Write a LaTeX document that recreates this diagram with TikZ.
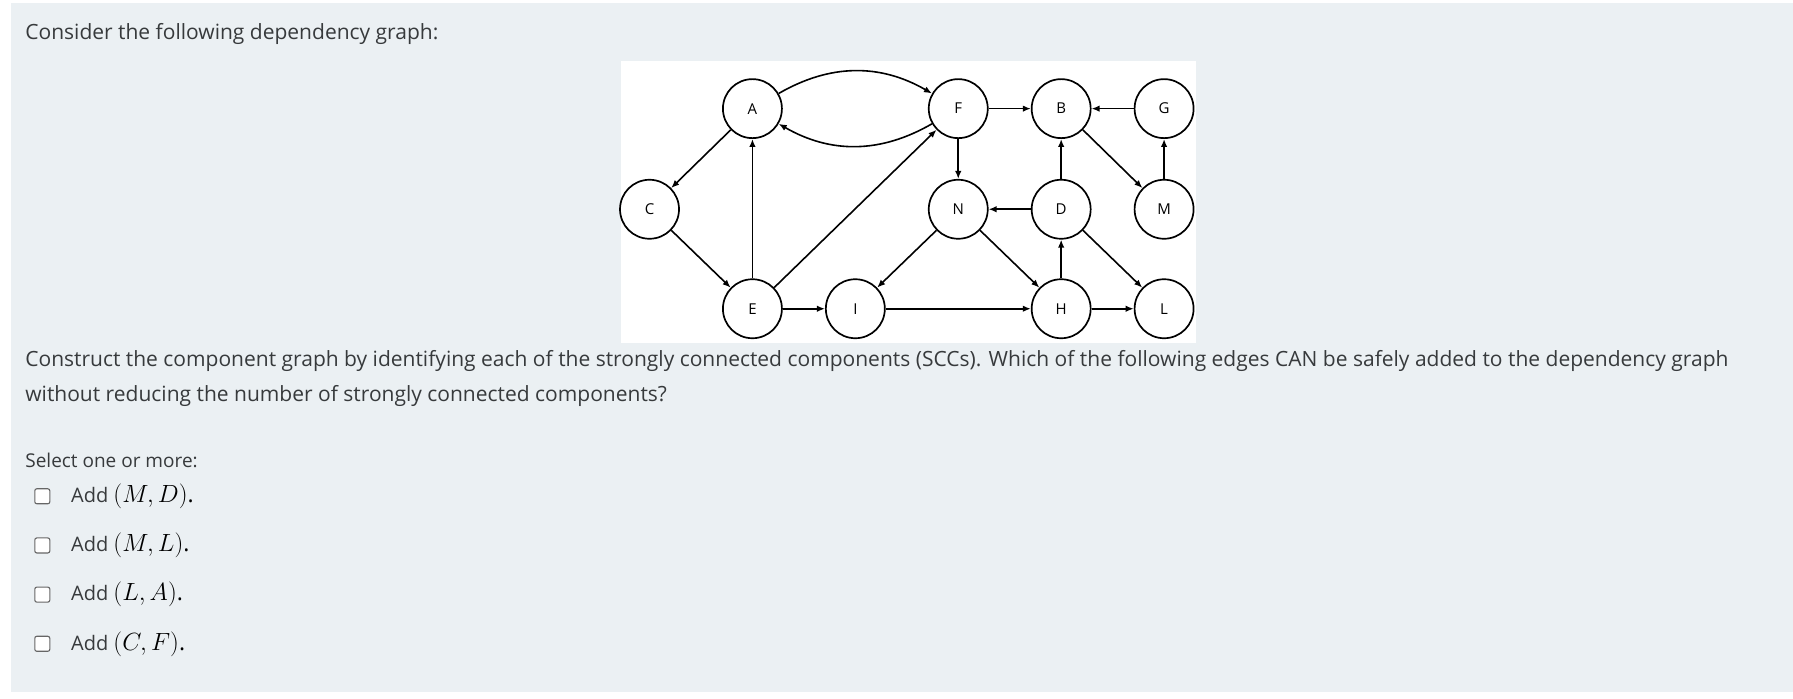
\documentclass[tikz,border=0pt]{standalone}
\usepackage{fontspec}
\setmainfont{Open Sans}
\usetikzlibrary{arrows.meta}
\definecolor{panel}{HTML}{EBF0F3}
\definecolor{txt}{HTML}{373A3C}
\begin{document}
\begin{tikzpicture}[x=1.1435pt,y=-1.1435pt,
  vtx/.style={circle,draw,line width=1.7pt,minimum size=59pt,inner sep=0pt,fill=white,font=\fontsize{15}{16}\selectfont},
  edge/.style={line width=1.6pt,-{Latex[length=8pt,width=6.5pt]}},
  para/.style={anchor=west,inner sep=0pt,text=txt,font=\fontsize{21}{24}\selectfont},
  cbox/.style={draw=gray!80!black,line width=1.1pt,rounded corners=2pt,fill=white,minimum size=15pt,inner sep=0pt}]
\useasboundingbox (0,0) rectangle (1568,611);
\fill[white] (0,0) rectangle (1568,611);
\fill[panel] (10,3) rectangle (1568,605);
\fill[white] (543,53) rectangle (1046,300);
\node[para] (t1) at (22,30) {Consider the following dependency graph:};
\node[para] (t2) at (22,316) {Construct the component graph by identifying each of the strongly connected components (SCCs). Which of the following edges CAN be safely added to the dependency graph};
\node[para] (t3) at (22,346) {without reducing the number of strongly connected components?};
\node[para,font=\fontsize{19}{22}\selectfont] (sel) at (22,403) {Select one or more:};
\foreach \y/\n/\t in {434/c1/{(M,D)},477/c2/{(M,L)},520/c3/{(L,A)},563/c4/{(C,F)}}{
  \node[cbox] (\n) at (37,\y) {};
  \node[para,font=\fontsize{20}{22}\selectfont] (\n t) at (62,\y) {Add \fontsize{23}{26}\selectfont\color{black}$\t$.};
}
\node[vtx] (A) at (658,95) {A};
\node[vtx] (F) at (838,95) {F};
\node[vtx] (B) at (928,95) {B};
\node[vtx] (G) at (1018,95) {G};
\node[vtx] (C) at (568,183) {C};
\node[vtx] (N) at (838,183) {N};
\node[vtx] (D) at (928,183) {D};
\node[vtx] (M) at (1018,183) {M};
\node[vtx] (E) at (658,270) {E};
\node[vtx] (I) at (748,270) {I};
\node[vtx] (H) at (928,270) {H};
\node[vtx] (L) at (1018,270) {L};
\draw[edge] (A) to[bend left=30] (F);
\draw[edge] (F) to[bend left=30] (A);
\draw[edge] (A) -- (C);
\draw[edge] (C) -- (E);
\draw[edge] (E) -- (A);
\draw[edge] (E) -- (F);
\draw[edge] (E) -- (I);
\draw[edge] (I) -- (H);
\draw[edge] (F) -- (B);
\draw[edge] (G) -- (B);
\draw[edge] (F) -- (N);
\draw[edge] (D) -- (N);
\draw[edge] (D) -- (B);
\draw[edge] (B) -- (M);
\draw[edge] (M) -- (G);
\draw[edge] (N) -- (I);
\draw[edge] (N) -- (H);
\draw[edge] (H) -- (D);
\draw[edge] (D) -- (L);
\draw[edge] (H) -- (L);
\end{tikzpicture}
\end{document}
